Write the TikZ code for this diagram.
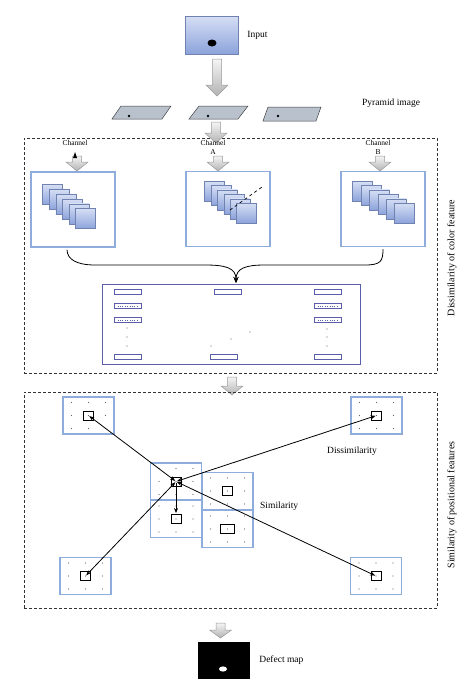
\documentclass[tikz,border=0pt]{standalone}
\usepackage{fontspec}
\setmainfont{Liberation Serif}
\usepackage{xcolor}
\usetikzlibrary{arrows.meta,calc,positioning}
\definecolor{cell-blue}{HTML}{8EADDC}
\definecolor{pale-blue}{HTML}{D5DEF4}
\definecolor{mid-blue}{HTML}{8CA3DB}
\definecolor{slate-blue}{HTML}{5B5EA8}
\definecolor{plate-gray}{HTML}{B9C1CD}
\tikzset{
    gray-arrow/.style = {draw=gray!80, top color=gray!8, bottom color=gray!60, line width=0.5pt},
    image-box/.style = {draw=mid-blue!80!black, top color=pale-blue, bottom color=mid-blue, rectangle, inner sep=0pt},
    plate/.style = {draw=black!75, fill=plate-gray, line width=0.5pt},
    section-box/.style = {draw=black!80, dash pattern=on 3pt off 2pt, line width=0.9pt, rectangle, inner sep=0pt},
    channel-box/.style = {draw=cell-blue, line width=1.1pt, rectangle, inner sep=0pt, minimum width=84pt, minimum height=75pt},
    feature-map/.style = {draw=mid-blue!80!black, top color=pale-blue, bottom color=mid-blue, minimum size=20pt, inner sep=0pt, anchor=north west},
    matrix-box/.style = {draw=slate-blue, line width=1pt, rectangle, inner sep=0pt},
    slot-box/.style = {draw=slate-blue, line width=0.7pt, minimum width=27pt, minimum height=5pt, inner sep=0pt},
    cell-box/.style = {draw=cell-blue, line width=1.2pt, minimum width=51pt, minimum height=37pt, inner sep=0pt},
    probe/.style = {draw=black, line width=1pt, minimum width=10pt, minimum height=9pt, inner sep=0pt},
    link-arrow/.style = {{Stealth[length=5pt,width=4pt]}-{Stealth[length=5pt,width=4pt]}, line width=0.8pt, shorten <=1pt, shorten >=1pt},
    merge-arrow/.style = {-{Stealth[length=6pt,width=5pt]}, line width=0.8pt},
    tiny-dot/.style = {fill=black!60, circle, inner sep=0pt, minimum size=1.4pt},
    label-text/.style = {font=\fontsize{9.5}{11}\selectfont, inner sep=0pt},
    channel-text/.style = {font=\fontsize{7.5}{9}\selectfont, inner sep=0pt, align=center},
    side-text/.style = {font=\fontsize{10}{12}\selectfont, inner sep=0pt, rotate=90},
}
\newcommand{\blockarrow}[4]{%
    \draw[gray-arrow] ({#1-4.5},#2) -- ({#1+4.5},#2) -- ({#1+4.5},#3) -- ({#1+11},#3) -- (#1,#4) -- ({#1-11},#3) -- ({#1-4.5},#3) -- cycle;}

\begin{document}
\begin{tikzpicture}[x=1pt,y=-1pt]
\useasboundingbox (0,0) rectangle (474,696);

\node[image-box, minimum width=53pt, minimum height=38pt] (input) at (211.5,35) {};
\fill (212,43) ellipse (4.5pt and 3.5pt);
\node[label-text, right=9pt of input] {Input};
\blockarrow{217}{59}{85}{96}

\foreach \x/\y/\w/\s/\h/\d in {112/119/50/9/13/17, 189/119/49/10/13/19, 263/121/53/5/14/15}{
    \draw[plate] (\x,\y) -- ++(\w,0) -- ++(\s,-\h) -- ++(-\w,0) -- cycle;
    \fill ({\x+\d},116) circle (1.4pt);
}
\node[label-text, anchor=west] at (362,103) {Pyramid image};

\node[section-box, minimum width=413pt, minimum height=235pt] (color-part) at (230.5,255.5) {};
\blockarrow{216}{122}{133}{143}
\node[side-text] at (452,258) {Dissimilarity of color feature};

\node[channel-box] (ch-l) at (73,209.5) {};
\node[channel-box] (ch-a) at (228,209) {};
\node[channel-box] (ch-b) at (383,209) {};
\node[channel-text] at (75,143) {Channel};
\node[channel-text] at (213,147.5) {Channel\\A};
\node[channel-text] at (378,147.5) {Channel\\B};
\blockarrow{77}{156}{162}{171}
\blockarrow{218}{156}{162}{171}
\blockarrow{380}{156}{162}{171}
\fill (73,158) -- (77,158) -- (75,152) -- cycle;
\foreach \b/\dx/\dy/\sx/\sy in {ch-l/12/13/6.6/4.8, ch-a/19/10/6.4/4.4, ch-b/12/10/8.4/4.4}{
    \foreach \i in {0,...,5}
        \node[feature-map] at ($(\b.north west)+({\dx+\i*\sx},{\dy+\i*\sy})$) {};
}
\draw[dashed, line width=0.7pt] (230,210) -- (262,187);

\node[matrix-box, minimum width=258pt, minimum height=80pt] (feat-matrix) at (231,324) {};
\coordinate (merge) at (236,283);
\draw[merge-arrow] ($(ch-l.south)+(-6,2)$) .. controls +(0,10) and +(-18,0) .. (95,265) -- (205,265) .. controls (226,265) and (236,268) .. (merge);
\draw[merge-arrow] ($(ch-b.south)+(0,2)$) .. controls +(0,12) and +(16,0) .. (365,265) -- (265,265) .. controls (246,265) and (236,268) .. (merge);
\foreach \c/\x in {l/127.5, r/327.5}{
    \foreach \r/\y in {1/292, 2/306, 3/320, 4/357}
        \node[slot-box] (sl-\c\r) at (\x,\y) {};
    \foreach \r in {2,3}
        \draw[slate-blue, dotted, line width=0.4pt] ($(sl-\c\r.west)+(4,0.5)$) -- ($(sl-\c\r.east)+(-4,0.5)$);
}
\node[slot-box] (sl-m1) at (227.5,292) {};
\node[slot-box] (sl-m4) at (224,357) {};
\foreach \x/\y in {127/328, 127/337, 127/346, 327/329, 327/337, 327/346, 250/332, 231/339, 211/346}
    \node[tiny-dot] at (\x,\y) {};

\blockarrow{232}{377}{386}{395}
\node[section-box, minimum width=413pt, minimum height=216pt] (position-part) at (230.5,500) {};
\node[side-text] at (452,505) {Similarity of positional features};

\foreach \n/\x/\y in {tl/88.5/415.5, tr/376.5/415.5, a/176/481.5, b/227.5/491, c/176/519, d/227.5/529, bl/85.5/576, br/376/576}{
    \node[cell-box] (cell-\n) at (\x,\y) {};
    \foreach \i in {-17,0,17}
        \foreach \j in {-13,0,13}
            \node[tiny-dot] at ($(cell-\n)+(\i,\j)$) {};
}
\foreach \n in {tl,tr,a,b,c,bl,br}
    \node[probe] (sq-\n) at (cell-\n) {};
\node[probe, minimum width=14pt] (sq-d) at (cell-d) {};

\draw[link-arrow] (sq-a.center) -- (sq-tl.center);
\draw[link-arrow] (sq-a.center) -- (sq-tr.center);
\draw[link-arrow] (sq-a.center) -- (sq-bl.center);
\draw[link-arrow] (sq-a.center) -- (sq-br.center);
\draw[link-arrow, -{Stealth[length=5pt,width=4pt]}] (sq-a.center) -- (sq-c.north);

\node[label-text] at (352,451) {Dissimilarity};
\node[label-text, anchor=west] at (260,506) {Similarity};

\blockarrow{220.5}{623}{630}{638}
\node[fill=black, minimum width=52pt, minimum height=37pt, inner sep=0pt] (defect) at (224,660.5) {};
\fill[white] (223,669) ellipse (4pt and 2.6pt);
\node[label-text, right=9pt of defect] {Defect map};
\end{tikzpicture}
\end{document}
